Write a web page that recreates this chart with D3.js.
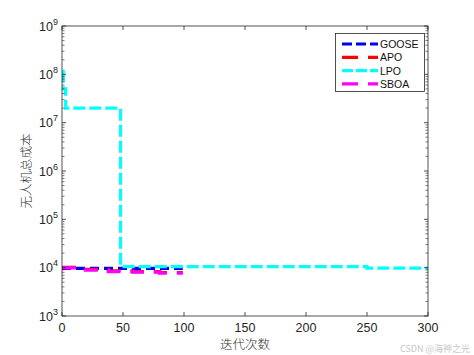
<!DOCTYPE html>
<html><head><meta charset="utf-8">
<script src="https://cdn.jsdelivr.net/npm/d3@7"></script>
<style>body{margin:0;background:#fff}svg{display:block}</style>
</head><body>
<script>
const xTicks = [0, 50, 100, 150, 200, 250, 300];
const yExps = [3, 4, 5, 6, 7, 8, 9];
const seriesNames = ["GOOSE", "APO", "LPO", "SBOA"];
// step change points (iteration, best cost)
const gooseIter = [0, 99];
const gooseVal  = [9700, 9700];
const apoIter = [0, 15, 38, 58, 80, 99];
const apoVal  = [10100, 9200, 8600, 8300, 7950, 7950];
const lpoIter = [0, 1, 3, 48, 250, 300];
const lpoVal  = [1.15e8, 5e7, 2e7, 1.05e4, 9800, 9800];
const sboaIter = [0, 15, 38, 58, 80, 99];
const sboaVal  = [9900, 8900, 8300, 8100, 7700, 7700];

const W = 474, H = 355;
const m = {l: 62, r: 428, t: 26, b: 316};
const svg = d3.select("body").append("svg").attr("width", W).attr("height", H);
const x = d3.scaleLinear().domain([0, 300]).range([m.l, m.r]);
const y = d3.scaleLog().domain([1e3, 1e9]).range([m.b, m.t]);

const styles = {
  GOOSE: {c: "#0000f0", d: "9,5"},
  APO:   {c: "#ff0000", d: "14,10"},
  LPO:   {c: "#00ffff", d: "12,4"},
  SBOA:  {c: "#ff00ff", d: "14,10"}
};
const data = {
  GOOSE: gooseIter.map((v, i) => [v, gooseVal[i]]),
  APO: apoIter.map((v, i) => [v, apoVal[i]]),
  LPO: lpoIter.map((v, i) => [v, lpoVal[i]]),
  SBOA: sboaIter.map((v, i) => [v, sboaVal[i]])
};
const line = d3.line().x(d => x(d[0])).y(d => y(d[1])).curve(d3.curveStepAfter);
const g = svg.append("g");
g.append("defs").append("clipPath").attr("id", "cp").append("rect")
  .attr("x", m.l).attr("y", m.t).attr("width", m.r - m.l).attr("height", m.b - m.t);
const lines = g.append("g").attr("clip-path", "url(#cp)");
seriesNames.forEach(n => {
  lines.append("path").datum(data[n]).attr("d", line).attr("fill", "none")
    .attr("stroke", styles[n].c).attr("stroke-width", 3.2)
    .attr("stroke-dasharray", styles[n].d);
});

// axes
const ax = "#262626";
const fontN = "'Liberation Sans', Arial, sans-serif";
const axes = svg.append("g");
axes.append("rect").attr("x", m.l).attr("y", m.t).attr("width", m.r - m.l).attr("height", m.b - m.t)
  .attr("fill", "none").attr("stroke", ax).attr("stroke-width", 0.8);
xTicks.forEach(t => {
  const px = x(t);
  axes.append("line").attr("x1", px).attr("x2", px).attr("y1", m.b).attr("y2", m.b - 4).attr("stroke", ax).attr("stroke-width", 0.8);
  axes.append("line").attr("x1", px).attr("x2", px).attr("y1", m.t).attr("y2", m.t + 4).attr("stroke", ax).attr("stroke-width", 0.8);
  axes.append("text").attr("x", px).attr("y", 332).attr("text-anchor", "middle")
    .attr("font-family", fontN).attr("font-size", 12.5).attr("fill", ax).text(t);
});
yExps.forEach(e => {
  const py = y(Math.pow(10, e));
  axes.append("line").attr("x1", m.l).attr("x2", m.l + 4).attr("y1", py).attr("y2", py).attr("stroke", ax).attr("stroke-width", 0.8);
  axes.append("line").attr("x1", m.r).attr("x2", m.r - 4).attr("y1", py).attr("y2", py).attr("stroke", ax).attr("stroke-width", 0.8);
  const t = axes.append("text").attr("x", 58).attr("y", py + 4.5).attr("text-anchor", "end")
    .attr("font-family", fontN).attr("font-size", 12.5).attr("fill", ax);
  t.append("tspan").text("10");
  t.append("tspan").attr("dy", -6).attr("font-size", 9).text(e);
  if (e < 9) {
    for (let k = 2; k <= 9; k++) {
      const pm = y(k * Math.pow(10, e));
      axes.append("line").attr("x1", m.l).attr("x2", m.l + 2.5).attr("y1", pm).attr("y2", pm).attr("stroke", ax).attr("stroke-width", 0.6);
      axes.append("line").attr("x1", m.r).attr("x2", m.r - 2.5).attr("y1", pm).attr("y2", pm).attr("stroke", ax).attr("stroke-width", 0.6);
    }
  }
});

// labels
const fontC = "'Noto Sans CJK SC', sans-serif";
svg.append("text").attr("x", (m.l + m.r) / 2).attr("y", 349).attr("text-anchor", "middle")
  .attr("font-family", fontC).attr("font-size", 12.5).attr("font-weight", 300).attr("fill", "#333").text("迭代次数");
svg.append("text").attr("transform", `translate(31,${(m.t + m.b) / 2}) rotate(-90)`).attr("text-anchor", "middle")
  .attr("font-family", fontC).attr("font-size", 12.5).attr("font-weight", 300).attr("fill", "#333").text("无人机总成本");

// legend
const lg = svg.append("g");
lg.append("rect").attr("x", 335.5).attr("y", 33.5).attr("width", 89).attr("height", 58)
  .attr("fill", "#fff").attr("stroke", ax).attr("stroke-width", 0.8);
seriesNames.forEach((n, i) => {
  const ly = 44 + i * 13.3;
  lg.append("line").attr("x1", 342).attr("x2", 378).attr("y1", ly).attr("y2", ly)
    .attr("stroke", styles[n].c).attr("stroke-width", 3.2).attr("stroke-dasharray", styles[n].d === "14,10" ? "16,10" : (n === "GOOSE" ? "10,4" : "11,3"));
  lg.append("text").attr("x", 380).attr("y", ly + 4).attr("font-family", fontN).attr("font-size", 10.5)
    .attr("fill", "#111").text(n);
});

// watermark
svg.append("text").attr("x", 470).attr("y", 352).attr("text-anchor", "end")
  .attr("font-family", fontC).attr("font-size", 9).attr("fill", "#c8c8c8").text("CSDN @海神之光");
</script>
</body></html>
